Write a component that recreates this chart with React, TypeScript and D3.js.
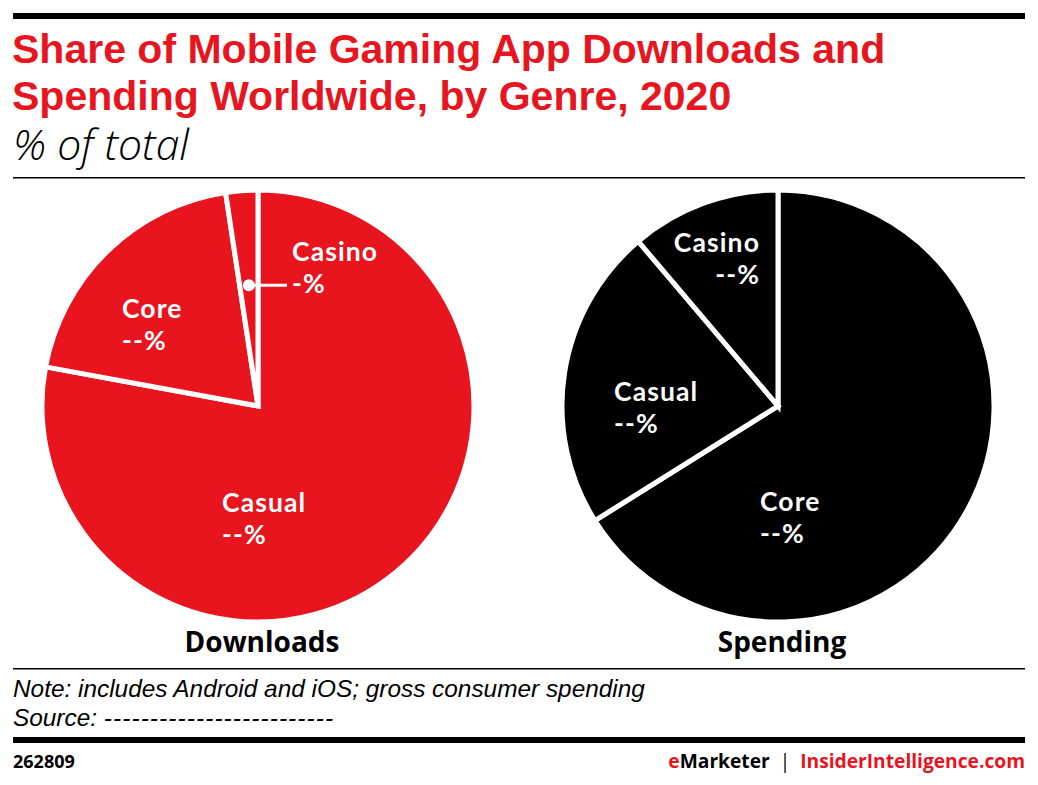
import React, { useEffect, useRef } from 'react';
import * as d3 from 'd3';

const width = 1038;
const height = 785;

// shares (% of total), clockwise from 12 o'clock
const downloadGenres = ['Casual', 'Core', 'Casino'];
const downloadShares = [77.9, 19.7, 2.4];
const downloadLabels = ['--%', '--%', '-%'];

const spendingGenres = ['Core', 'Casual', 'Casino'];
const spendingShares = [66.1, 22.7, 11.2];
const spendingLabels = ['--%', '--%', '--%'];

const titleLines = ['Share of Mobile Gaming App Downloads and', 'Spending Worldwide, by Genre, 2020'];
const subtitle = '% of total';
const note = 'Note: includes Android and iOS; gross consumer spending';
const sourceLabel = 'Source: ';
const sourceText = '-------------------------';
const chartId = '262809';

const red = '#e8141e';
const radius = 216;
const font = '"Open Sans", sans-serif';
const titleFont = '"Liberation Sans", Arial, sans-serif';
const labelFont = 'Lato, sans-serif';

// scale a text's font size so that it spans the wanted width (capped)
const fit = (sel: any, target: number, max = 999) => {
  const node = sel.node() as SVGTextContentElement;
  const size = parseFloat(sel.attr('font-size'));
  const len = node.getComputedTextLength();
  if (len > 0) sel.attr('font-size', Math.min(max, size * target / len).toFixed(2));
};

export default function App() {
  const ref = useRef<SVGSVGElement>(null);

  useEffect(() => {
    const svg = d3.select(ref.current);
    svg.selectAll('*').remove();

    // frame rules
    svg.append('rect').attr('x', 13).attr('y', 13).attr('width', 1012).attr('height', 6).attr('fill', '#000');
    svg.append('rect').attr('x', 13).attr('y', 177).attr('width', 1012).attr('height', 1.5).attr('fill', '#000');
    svg.append('rect').attr('x', 13).attr('y', 668).attr('width', 1012).attr('height', 1.5).attr('fill', '#000');
    svg.append('rect').attr('x', 13).attr('y', 737).attr('width', 1012).attr('height', 6).attr('fill', '#000');

    // title
    const t1 = svg.append('text')
      .attr('x', 12).attr('y', 63)
      .attr('font-family', titleFont).attr('font-weight', 700).attr('font-size', 38)
      .attr('fill', red).text(titleLines[0]);
    fit(t1, 882, 41);
    svg.append('text')
      .attr('x', 12).attr('y', 110)
      .attr('font-family', titleFont).attr('font-weight', 700).attr('font-size', t1.attr('font-size'))
      .attr('fill', red).text(titleLines[1]);

    const sub = svg.append('text')
      .attr('x', 13).attr('y', 160)
      .attr('font-family', font).attr('font-style', 'italic').attr('font-weight', 300)
      .attr('font-size', 33).attr('fill', '#000').text(subtitle);
    fit(sub, 176);

    const pie = d3.pie<number>().sort(null).value(d => d);
    const arc = d3.arc<d3.PieArcDatum<number>>().innerRadius(0).outerRadius(radius);

    const drawPie = (cx: number, values: number[], color: string, name: string) => {
      const g = svg.append('g').attr('transform', `translate(${cx}, 406)`);
      g.selectAll('path')
        .data(pie(values))
        .enter().append('path')
        .attr('d', arc)
        .attr('fill', color)
        .attr('stroke', '#fff')
        .attr('stroke-width', 5)
        .attr('stroke-linejoin', 'miter');

      svg.append('text')
        .attr('x', cx + 4)
        .attr('y', 652)
        .attr('text-anchor', 'middle')
        .attr('font-family', font)
        .attr('font-weight', 700)
        .attr('font-size', 28)
        .attr('fill', '#000')
        .text(name);
      return g;
    };

    const left = drawPie(258, downloadShares, red, 'Downloads');
    const right = drawPie(778, spendingShares, '#000', 'Spending');

    // slice labels (name over value), offsets relative to the pie centre
    const addLabel = (g: any, name: string, value: string, dx: number, dy: number, anchor = 'start') => {
      const t = g.append('g')
        .attr('text-anchor', anchor)
        .attr('font-family', labelFont)
        .attr('font-weight', 700)
        .attr('font-size', 26.5)
        .attr('letter-spacing', 1.1)
        .attr('fill', '#fff');
      t.append('text').attr('x', dx).attr('y', dy).text(name);
      t.append('text').attr('x', dx).attr('y', dy + 32).text(value);
    };

    addLabel(left, downloadGenres[0], downloadLabels[0], -36, 106);
    addLabel(left, downloadGenres[1], downloadLabels[1], -136, -88);
    addLabel(left, downloadGenres[2], downloadLabels[2], 34, -145);

    // leader for the thin casino slice
    const casino = pie(downloadShares)[2];
    const mid = (casino.startAngle + casino.endAngle) / 2;
    const lr = 121;
    const lx = Math.sin(mid) * lr;
    const ly = -Math.cos(mid) * lr;
    left.append('circle').attr('cx', lx).attr('cy', ly).attr('r', 6).attr('fill', '#fff');
    left.append('line')
      .attr('x1', lx).attr('y1', ly)
      .attr('x2', 29).attr('y2', ly)
      .attr('stroke', '#fff').attr('stroke-width', 3);

    addLabel(right, spendingGenres[0], spendingLabels[0], -18, 105);
    addLabel(right, spendingGenres[1], spendingLabels[1], -164, -5);
    addLabel(right, spendingGenres[2], spendingLabels[2], -18, -154, 'end');

    // notes
    const n1 = svg.append('text')
      .attr('x', 13).attr('y', 697)
      .attr('font-family', titleFont).attr('font-style', 'italic')
      .attr('font-size', 22).attr('fill', '#000').text(note);
    fit(n1, 632, 24.5);
    const src = svg.append('text')
      .attr('x', 13).attr('y', 726)
      .attr('font-family', titleFont).attr('font-style', 'italic')
      .attr('font-size', n1.attr('font-size')).attr('fill', '#000');
    src.append('tspan').text(sourceLabel);
    src.append('tspan').attr('letter-spacing', 1.1).text(sourceText);

    svg.append('text')
      .attr('x', 13)
      .attr('y', 768)
      .attr('font-family', font)
      .attr('font-weight', 700)
      .attr('font-size', 18)
      .attr('fill', '#000')
      .text(chartId);

    const brand = svg.append('text')
      .attr('x', 1025)
      .attr('y', 768)
      .attr('text-anchor', 'end')
      .attr('font-family', font)
      .attr('font-weight', 700)
      .attr('font-size', 18);
    brand.append('tspan').attr('fill', red).text('e');
    brand.append('tspan').attr('fill', '#000').text('Marketer');
    brand.append('tspan').attr('fill', '#000').attr('font-weight', 400).text('\u00a0\u00a0|\u00a0\u00a0');
    brand.append('tspan').attr('fill', red).text('InsiderIntelligence.com');
    fit(brand, 357);
  }, []);

  return <svg ref={ref} width={width} height={height} style={{ display: 'block', margin: -8 }} />;
}
